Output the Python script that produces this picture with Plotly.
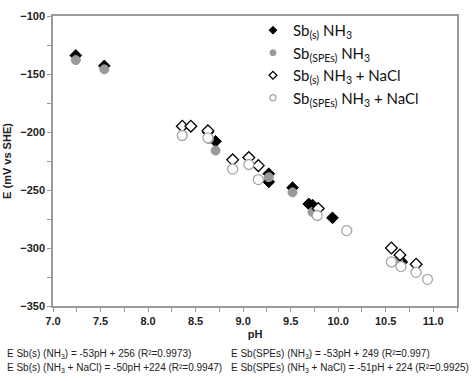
import plotly.graph_objects as go

# Sb(s) NH3 - black filled diamonds
sbs_nh3_ph = [7.24, 7.54, 8.63, 8.71, 9.27, 9.27, 9.52, 9.69, 9.73, 9.94, 10.67]
sbs_nh3_e = [-134, -143, -200, -208, -236, -243, -248, -262, -263, -274, -312]

# Sb(SPEs) NH3 - grey filled circles
spe_nh3_ph = [7.24, 7.54, 8.64, 8.71, 9.27, 9.52, 9.73, 10.63]
spe_nh3_e = [-138, -146, -206, -216, -239, -252, -269, -311]

# Sb(s) NH3 + NaCl - open diamonds
sbs_nacl_ph = [8.36, 8.45, 8.63, 8.89, 9.06, 9.16, 9.79, 10.56, 10.65, 10.82]
sbs_nacl_e = [-195, -195, -199, -224, -222, -229, -266, -300, -306, -314]

# Sb(SPEs) NH3 + NaCl - open circles
spe_nacl_ph = [8.36, 8.63, 8.89, 9.06, 9.16, 9.78, 10.09, 10.56, 10.66, 10.82, 10.94]
spe_nacl_e = [-203, -205, -232, -228, -241, -272, -285, -312, -316, -321, -327]

names = ["Sb<sub>(s)</sub> NH<sub>3</sub>",
         "Sb<sub>(SPEs)</sub> NH<sub>3</sub>",
         "Sb<sub>(s)</sub> NH<sub>3</sub> + NaCl",
         "Sb<sub>(SPEs)</sub> NH<sub>3</sub> + NaCl"]

equations = [
    "E Sb(s) (NH<sub>3</sub>) = -53pH + 256 (R²=0.9973)",
    "E Sb(SPEs) (NH<sub>3</sub>) = -53pH + 249 (R²=0.997)",
    "E Sb(s) (NH<sub>3</sub> + NaCl) = -50pH +224 (R²=0.9947)",
    "E Sb(SPEs) (NH<sub>3</sub> + NaCl) = -51pH + 224 (R²=0.9925)",
]

styles = [
    dict(symbol="diamond", color="black", line=dict(color="black", width=1)),
    dict(symbol="circle", color="#999999", line=dict(color="#999999", width=1)),
    dict(symbol="diamond", color="white", line=dict(color="black", width=1.3)),
    dict(symbol="circle", color="white", line=dict(color="#a6a6a6", width=1.3)),
]
sizes = [9, 9, 9, 10]
series = [(sbs_nh3_ph, sbs_nh3_e), (spe_nh3_ph, spe_nh3_e),
          (sbs_nacl_ph, sbs_nacl_e), (spe_nacl_ph, spe_nacl_e)]

fig = go.Figure()
for (xs, ys), st, sz, nm in zip(series, styles, sizes, names):
    fig.add_trace(go.Scatter(x=xs, y=ys, mode="markers", name=nm, showlegend=False,
                             marker=dict(st, size=sz)))
# legend entries with small markers (as in the reference)
for st, nm in zip(styles, names):
    fig.add_trace(go.Scatter(x=[None], y=[None], mode="markers", name=nm,
                             marker=dict(st, size=6)))

axis_font = dict(family="Arial, Liberation Sans, sans-serif", size=11, color="#222222")

fig.update_xaxes(range=[7.0, 11.25], dtick=0.5, tick0=7.0, tickformat=".1f",
                 ticks="outside", ticklen=4, tickcolor="#999999", automargin=False,
                 minor=dict(dtick=0.25, ticks="outside", ticklen=4, tickcolor="#999999"),
                 showline=True, linecolor="#9a9a9a", linewidth=1.5, mirror=True,
                 showgrid=False, zeroline=False,
                 tickfont=dict(axis_font, weight="bold"),
                 title=dict(text="<b>pH</b>", font=axis_font, standoff=4))
fig.update_yaxes(range=[-350, -100], dtick=50, ticks="outside", ticklen=4, tickcolor="#999999",
                 automargin=False,
                 minor=dict(dtick=25, ticks="outside", ticklen=4, tickcolor="#999999"),
                 showline=True, linecolor="#9a9a9a", linewidth=1.5, mirror=True,
                 showgrid=False, zeroline=False,
                 tickfont=dict(axis_font, weight="bold"),
                 title=dict(text="<b>E (mV vs SHE)</b>", font=axis_font, standoff=6))

positions = [(-0.119, -0.166), (0.436, -0.166), (-0.119, -0.213), (0.436, -0.213)]
annotations = []
for text, (ax, ay) in zip(equations, positions):
    annotations.append(dict(text=text, x=ax, y=ay, xref="paper", yref="paper",
                            xanchor="left", yanchor="middle", showarrow=False,
                            font=dict(family="Arial, Liberation Sans, sans-serif", size=10,
                                      color="#222222")))

fig.update_layout(
    width=474, height=381,
    margin=dict(l=53, r=17, t=16, b=75),
    paper_bgcolor="white", plot_bgcolor="white",
    showlegend=True,
    legend=dict(x=0.495, y=1.007, xanchor="left", yanchor="top",
                font=dict(family="Lato, Open Sans, sans-serif", size=15, color="#111111"),
                bgcolor="rgba(0,0,0,0)", tracegroupgap=0, itemsizing="trace"),
    annotations=annotations,
)

fig.write_html("out.html", config={"displayModeBar": False},
               post_script="document.body.style.margin='0px';")
